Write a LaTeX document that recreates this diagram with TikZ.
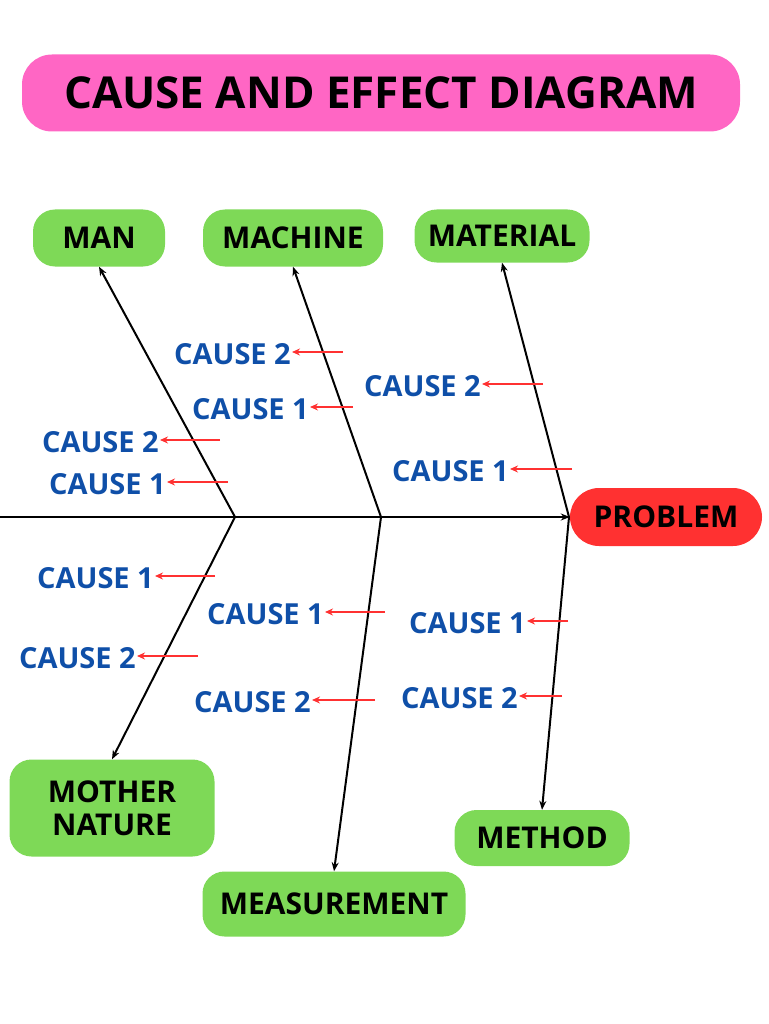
\documentclass[tikz,border=0pt]{standalone}
\usepackage{fontspec}
\setmainfont{Open Sans}
\usetikzlibrary{arrows.meta}
\definecolor{pinkb}{HTML}{FF66C4}
\definecolor{greenb}{HTML}{7ED957}
\definecolor{redb}{HTML}{FF3131}
\definecolor{blueb}{HTML}{0F4FA8}
\begin{document}
\begin{tikzpicture}[x=1pt,y=-1pt,
 box/.style={rounded corners=22pt,inner sep=0pt,font=\fontsize{30}{33}\selectfont\bfseries,align=center},
 cat/.style={box,fill=greenb},
 bone/.style={line width=2pt,-{Stealth[length=9pt,width=7pt]}},
 cause/.style={font=\fontsize{29}{32}\selectfont\bfseries,text=blueb,inner sep=1pt,anchor=east},
 carr/.style={redb,line width=1.8pt,-{Stealth[length=8pt,width=7pt]}}]
\useasboundingbox (0,0) rectangle (768,1024);
\node[box,fill=pinkb,minimum width=718pt,minimum height=77pt,rounded corners=30pt,font=\fontsize{44}{48}\selectfont\bfseries] (title) at (381,93) {CAUSE AND EFFECT DIAGRAM};
\node[cat,minimum width=132pt,minimum height=57pt] (man) at (99,238) {MAN};
\node[cat,minimum width=180pt,minimum height=57pt] (machine) at (293,238) {MACHINE};
\node[cat,minimum width=175pt,minimum height=53pt] (material) at (502,236) {MATERIAL};
\node[cat,minimum width=205pt,minimum height=97pt] (mother) at (112,808) {MOTHER\\NATURE};
\node[cat,minimum width=263pt,minimum height=65pt] (meas) at (334,904) {MEASUREMENT};
\node[cat,minimum width=175pt,minimum height=56pt] (method) at (542,838) {METHOD};
\node[box,fill=redb,minimum width=192pt,minimum height=58pt,rounded corners=29pt] (problem) at (666,517) {PROBLEM};
\coordinate (s0) at (0,517);
\coordinate (j1) at (235,517);
\coordinate (j2) at (381,517);
\coordinate (j3) at (569,517);
\draw[bone] (s0) -- (problem.west);
\draw[bone] (j1) -- (man.south);
\draw[bone] (j2) -- (machine.south);
\draw[bone] (j3) -- (material.south);
\draw[bone] (j1) -- (mother.north);
\draw[bone] (j2) -- (meas.north);
\draw[bone] (j3) -- (method.north);
\foreach \n/\sx/\ex/\y/\t in {a/343/295/352/CAUSE 2, b/353/313/407/CAUSE 1, c/543/485/384/CAUSE 2, d/572/513/469/CAUSE 1, e/220/163/440/CAUSE 2, f/228/170/482/CAUSE 1, g/215/158/576/CAUSE 1, h/198/140/656/CAUSE 2, i/385/328/612/CAUSE 1, j/375/315/700/CAUSE 2, k/568/530/621/CAUSE 1, l/562/522/696/CAUSE 2}{
 \coordinate (c\n) at (\sx,\y);
 \node[cause] (t\n) at (\ex-3,\y+2) {\t};
 \draw[carr] (c\n) -- (t\n.east |- c\n);
}
\end{tikzpicture}
\end{document}
